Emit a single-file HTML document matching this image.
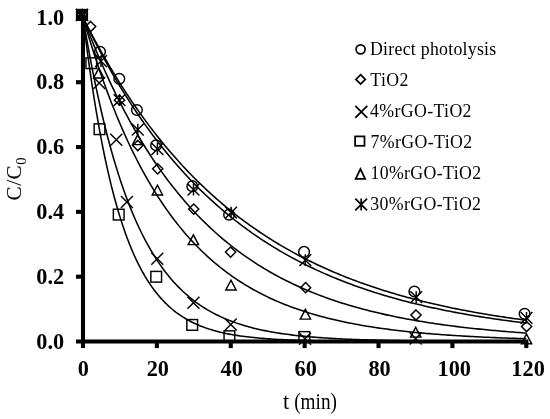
<!DOCTYPE html>
<html lang="en"><head><meta charset="utf-8"><title>C/C0 versus t (min)</title>
<style>
html,body{margin:0;padding:0;background:#fff;}
body{width:550px;height:419px;overflow:hidden;}
svg{display:block;}
text{font-family:"Liberation Serif","Times New Roman",Times,serif;fill:#000;}
.tk{font-weight:bold;font-size:22.3px;}
.lg{font-size:17.8px;}
.ax{font-size:22.3px;}
.mk{fill:none;stroke:#000;}
</style></head><body>
<svg width="550" height="419" viewBox="0 0 550 419">
<rect width="550" height="419" fill="#fff"/>

<g fill="none" stroke="#000" stroke-width="1.55">
<path d="M83.00 17.40 L85.22 21.78 L87.43 26.11 L89.65 30.38 L91.87 34.58 L94.08 38.74 L96.30 42.83 L98.52 46.87 L100.73 50.86 L102.95 54.79 L105.16 58.67 L107.38 62.49 L109.60 66.27 L111.81 69.99 L114.03 73.66 L116.25 77.29 L118.46 80.86 L120.68 84.39 L122.90 87.87 L125.11 91.30 L127.33 94.68 L129.55 98.02 L131.76 101.31 L133.98 104.56 L136.20 107.77 L138.41 110.93 L140.63 114.05 L142.85 117.13 L145.06 120.16 L147.28 123.16 L149.50 126.11 L151.71 129.02 L153.93 131.90 L156.14 134.73 L158.36 137.53 L160.58 140.29 L162.79 143.01 L165.01 145.70 L167.23 148.35 L169.44 150.96 L171.66 153.54 L173.88 156.08 L176.09 158.59 L178.31 161.06 L180.53 163.50 L182.74 165.91 L184.96 168.29 L187.18 170.63 L189.39 172.94 L191.61 175.22 L193.82 177.47 L196.04 179.69 L198.26 181.88 L200.47 184.04 L202.69 186.17 L204.91 188.27 L207.12 190.34 L209.34 192.39 L211.56 194.40 L213.77 196.39 L215.99 198.36 L218.21 200.29 L220.42 202.20 L222.64 204.09 L224.86 205.95 L227.07 207.78 L229.29 209.59 L231.51 211.37 L233.72 213.13 L235.94 214.87 L238.16 216.58 L240.37 218.27 L242.59 219.94 L244.80 221.58 L247.02 223.21 L249.24 224.81 L251.45 226.38 L253.67 227.94 L255.89 229.48 L258.10 230.99 L260.32 232.49 L262.54 233.96 L264.75 235.42 L266.97 236.85 L269.19 238.27 L271.40 239.67 L273.62 241.04 L275.84 242.40 L278.05 243.74 L280.27 245.06 L282.49 246.37 L284.70 247.66 L286.92 248.93 L289.13 250.18 L291.35 251.41 L293.57 252.63 L295.78 253.83 L298.00 255.02 L300.22 256.19 L302.43 257.34 L304.65 258.48 L306.87 259.61 L309.08 260.71 L311.30 261.81 L313.52 262.88 L315.73 263.95 L317.95 265.00 L320.17 266.03 L322.38 267.05 L324.60 268.06 L326.81 269.05 L329.03 270.03 L331.25 271.00 L333.46 271.95 L335.68 272.89 L337.90 273.82 L340.11 274.74 L342.33 275.64 L344.55 276.53 L346.76 277.41 L348.98 278.28 L351.20 279.13 L353.41 279.98 L355.63 280.81 L357.85 281.63 L360.06 282.44 L362.28 283.24 L364.50 284.03 L366.71 284.80 L368.93 285.57 L371.14 286.33 L373.36 287.07 L375.58 287.81 L377.79 288.54 L380.01 289.25 L382.23 289.96 L384.44 290.66 L386.66 291.35 L388.88 292.02 L391.09 292.69 L393.31 293.35 L395.53 294.00 L397.74 294.65 L399.96 295.28 L402.18 295.91 L404.39 296.52 L406.61 297.13 L408.83 297.73 L411.04 298.32 L413.26 298.91 L415.47 299.48 L417.69 300.05 L419.91 300.61 L422.12 301.17 L424.34 301.71 L426.56 302.25 L428.77 302.78 L430.99 303.30 L433.21 303.82 L435.42 304.33 L437.64 304.83 L439.86 305.33 L442.07 305.82 L444.29 306.30 L446.51 306.78 L448.72 307.25 L450.94 307.71 L453.16 308.17 L455.37 308.62 L457.59 309.06 L459.80 309.50 L462.02 309.94 L464.24 310.36 L466.45 310.78 L468.67 311.20 L470.89 311.61 L473.10 312.01 L475.32 312.41 L477.54 312.81 L479.75 313.19 L481.97 313.58 L484.19 313.95 L486.40 314.33 L488.62 314.69 L490.84 315.06 L493.05 315.42 L495.27 315.77 L497.49 316.12 L499.70 316.46 L501.92 316.80 L504.13 317.13 L506.35 317.46 L508.57 317.79 L510.78 318.11 L513.00 318.42 L515.22 318.74 L517.43 319.04 L519.65 319.35 L521.87 319.65 L524.08 319.94 L526.30 320.24"/>
<path d="M83.00 17.40 L85.22 22.01 L87.43 26.56 L89.65 31.05 L91.87 35.47 L94.08 39.82 L96.30 44.12 L98.52 48.35 L100.73 52.53 L102.95 56.64 L105.16 60.70 L107.38 64.70 L109.60 68.64 L111.81 72.52 L114.03 76.35 L116.25 80.13 L118.46 83.85 L120.68 87.52 L122.90 91.13 L125.11 94.70 L127.33 98.21 L129.55 101.67 L131.76 105.09 L133.98 108.45 L136.20 111.77 L138.41 115.04 L140.63 118.27 L142.85 121.45 L145.06 124.58 L147.28 127.67 L149.50 130.71 L151.71 133.71 L153.93 136.67 L156.14 139.59 L158.36 142.46 L160.58 145.30 L162.79 148.09 L165.01 150.84 L167.23 153.56 L169.44 156.23 L171.66 158.87 L173.88 161.47 L176.09 164.04 L178.31 166.56 L180.53 169.05 L182.74 171.51 L184.96 173.93 L187.18 176.31 L189.39 178.67 L191.61 180.98 L193.82 183.27 L196.04 185.52 L198.26 187.74 L200.47 189.93 L202.69 192.09 L204.91 194.22 L207.12 196.31 L209.34 198.38 L211.56 200.42 L213.77 202.43 L215.99 204.41 L218.21 206.36 L220.42 208.28 L222.64 210.18 L224.86 212.05 L227.07 213.89 L229.29 215.71 L231.51 217.50 L233.72 219.27 L235.94 221.01 L238.16 222.72 L240.37 224.41 L242.59 226.08 L244.80 227.72 L247.02 229.34 L249.24 230.94 L251.45 232.51 L253.67 234.07 L255.89 235.60 L258.10 237.10 L260.32 238.59 L262.54 240.06 L264.75 241.50 L266.97 242.92 L269.19 244.33 L271.40 245.71 L273.62 247.07 L275.84 248.42 L278.05 249.74 L280.27 251.05 L282.49 252.34 L284.70 253.61 L286.92 254.86 L289.13 256.09 L291.35 257.31 L293.57 258.51 L295.78 259.69 L298.00 260.85 L300.22 262.00 L302.43 263.13 L304.65 264.25 L306.87 265.35 L309.08 266.43 L311.30 267.50 L313.52 268.56 L315.73 269.59 L317.95 270.62 L320.17 271.63 L322.38 272.62 L324.60 273.60 L326.81 274.57 L329.03 275.52 L331.25 276.46 L333.46 277.39 L335.68 278.30 L337.90 279.20 L340.11 280.09 L342.33 280.96 L344.55 281.82 L346.76 282.67 L348.98 283.51 L351.20 284.34 L353.41 285.15 L355.63 285.95 L357.85 286.74 L360.06 287.52 L362.28 288.29 L364.50 289.05 L366.71 289.80 L368.93 290.53 L371.14 291.26 L373.36 291.97 L375.58 292.68 L377.79 293.37 L380.01 294.06 L382.23 294.73 L384.44 295.40 L386.66 296.06 L388.88 296.70 L391.09 297.34 L393.31 297.97 L395.53 298.59 L397.74 299.20 L399.96 299.80 L402.18 300.40 L404.39 300.98 L406.61 301.56 L408.83 302.13 L411.04 302.69 L413.26 303.24 L415.47 303.79 L417.69 304.32 L419.91 304.85 L422.12 305.37 L424.34 305.89 L426.56 306.39 L428.77 306.89 L430.99 307.39 L433.21 307.87 L435.42 308.35 L437.64 308.82 L439.86 309.29 L442.07 309.75 L444.29 310.20 L446.51 310.65 L448.72 311.08 L450.94 311.52 L453.16 311.94 L455.37 312.37 L457.59 312.78 L459.80 313.19 L462.02 313.59 L464.24 313.99 L466.45 314.38 L468.67 314.77 L470.89 315.15 L473.10 315.52 L475.32 315.89 L477.54 316.26 L479.75 316.62 L481.97 316.97 L484.19 317.32 L486.40 317.66 L488.62 318.00 L490.84 318.34 L493.05 318.67 L495.27 318.99 L497.49 319.31 L499.70 319.63 L501.92 319.94 L504.13 320.25 L506.35 320.55 L508.57 320.85 L510.78 321.14 L513.00 321.43 L515.22 321.72 L517.43 322.00 L519.65 322.28 L521.87 322.55 L524.08 322.82 L526.30 323.09"/>
<path d="M83.00 17.40 L85.22 23.26 L87.43 29.01 L89.65 34.66 L91.87 40.20 L94.08 45.65 L96.30 51.00 L98.52 56.25 L100.73 61.40 L102.95 66.47 L105.16 71.44 L107.38 76.32 L109.60 81.11 L111.81 85.82 L114.03 90.44 L116.25 94.98 L118.46 99.43 L120.68 103.81 L122.90 108.11 L125.11 112.32 L127.33 116.47 L129.55 120.53 L131.76 124.53 L133.98 128.45 L136.20 132.30 L138.41 136.08 L140.63 139.79 L142.85 143.44 L145.06 147.02 L147.28 150.53 L149.50 153.99 L151.71 157.38 L153.93 160.70 L156.14 163.97 L158.36 167.18 L160.58 170.33 L162.79 173.42 L165.01 176.46 L167.23 179.45 L169.44 182.37 L171.66 185.25 L173.88 188.07 L176.09 190.85 L178.31 193.57 L180.53 196.24 L182.74 198.87 L184.96 201.45 L187.18 203.98 L189.39 206.47 L191.61 208.91 L193.82 211.30 L196.04 213.66 L198.26 215.97 L200.47 218.24 L202.69 220.46 L204.91 222.65 L207.12 224.80 L209.34 226.91 L211.56 228.98 L213.77 231.01 L215.99 233.01 L218.21 234.97 L220.42 236.90 L222.64 238.79 L224.86 240.64 L227.07 242.47 L229.29 244.26 L231.51 246.01 L233.72 247.74 L235.94 249.44 L238.16 251.10 L240.37 252.73 L242.59 254.34 L244.80 255.91 L247.02 257.46 L249.24 258.98 L251.45 260.47 L253.67 261.94 L255.89 263.37 L258.10 264.79 L260.32 266.17 L262.54 267.53 L264.75 268.87 L266.97 270.18 L269.19 271.47 L271.40 272.74 L273.62 273.98 L275.84 275.20 L278.05 276.40 L280.27 277.58 L282.49 278.73 L284.70 279.87 L286.92 280.98 L289.13 282.07 L291.35 283.15 L293.57 284.20 L295.78 285.24 L298.00 286.26 L300.22 287.25 L302.43 288.23 L304.65 289.20 L306.87 290.14 L309.08 291.07 L311.30 291.98 L313.52 292.88 L315.73 293.76 L317.95 294.62 L320.17 295.47 L322.38 296.30 L324.60 297.12 L326.81 297.92 L329.03 298.71 L331.25 299.48 L333.46 300.24 L335.68 300.98 L337.90 301.72 L340.11 302.44 L342.33 303.14 L344.55 303.83 L346.76 304.52 L348.98 305.18 L351.20 305.84 L353.41 306.49 L355.63 307.12 L357.85 307.74 L360.06 308.35 L362.28 308.95 L364.50 309.54 L366.71 310.11 L368.93 310.68 L371.14 311.24 L373.36 311.79 L375.58 312.32 L377.79 312.85 L380.01 313.37 L382.23 313.88 L384.44 314.38 L386.66 314.87 L388.88 315.35 L391.09 315.82 L393.31 316.28 L395.53 316.74 L397.74 317.19 L399.96 317.63 L402.18 318.06 L404.39 318.48 L406.61 318.90 L408.83 319.31 L411.04 319.71 L413.26 320.10 L415.47 320.49 L417.69 320.87 L419.91 321.24 L422.12 321.61 L424.34 321.97 L426.56 322.32 L428.77 322.67 L430.99 323.01 L433.21 323.34 L435.42 323.67 L437.64 323.99 L439.86 324.31 L442.07 324.62 L444.29 324.92 L446.51 325.22 L448.72 325.52 L450.94 325.81 L453.16 326.09 L455.37 326.37 L457.59 326.64 L459.80 326.91 L462.02 327.17 L464.24 327.43 L466.45 327.69 L468.67 327.94 L470.89 328.18 L473.10 328.42 L475.32 328.66 L477.54 328.89 L479.75 329.12 L481.97 329.34 L484.19 329.56 L486.40 329.78 L488.62 329.99 L490.84 330.20 L493.05 330.40 L495.27 330.60 L497.49 330.80 L499.70 330.99 L501.92 331.18 L504.13 331.37 L506.35 331.55 L508.57 331.73 L510.78 331.91 L513.00 332.08 L515.22 332.25 L517.43 332.42 L519.65 332.58 L521.87 332.75 L524.08 332.90 L526.30 333.06"/>
<path d="M83.00 17.40 L85.22 25.03 L87.43 32.48 L89.65 39.75 L91.87 46.85 L94.08 53.79 L96.30 60.56 L98.52 67.18 L100.73 73.63 L102.95 79.94 L105.16 86.09 L107.38 92.11 L109.60 97.98 L111.81 103.71 L114.03 109.31 L116.25 114.77 L118.46 120.11 L120.68 125.32 L122.90 130.41 L125.11 135.38 L127.33 140.23 L129.55 144.97 L131.76 149.59 L133.98 154.11 L136.20 158.52 L138.41 162.83 L140.63 167.03 L142.85 171.14 L145.06 175.15 L147.28 179.07 L149.50 182.89 L151.71 186.62 L153.93 190.27 L156.14 193.83 L158.36 197.30 L160.58 200.70 L162.79 204.01 L165.01 207.25 L167.23 210.41 L169.44 213.49 L171.66 216.51 L173.88 219.45 L176.09 222.32 L178.31 225.13 L180.53 227.87 L182.74 230.54 L184.96 233.15 L187.18 235.70 L189.39 238.19 L191.61 240.63 L193.82 243.00 L196.04 245.32 L198.26 247.58 L200.47 249.79 L202.69 251.95 L204.91 254.06 L207.12 256.12 L209.34 258.13 L211.56 260.09 L213.77 262.01 L215.99 263.88 L218.21 265.71 L220.42 267.49 L222.64 269.23 L224.86 270.93 L227.07 272.59 L229.29 274.22 L231.51 275.80 L233.72 277.35 L235.94 278.86 L238.16 280.33 L240.37 281.77 L242.59 283.18 L244.80 284.55 L247.02 285.89 L249.24 287.20 L251.45 288.48 L253.67 289.72 L255.89 290.94 L258.10 292.13 L260.32 293.30 L262.54 294.43 L264.75 295.54 L266.97 296.62 L269.19 297.68 L271.40 298.71 L273.62 299.72 L275.84 300.70 L278.05 301.66 L280.27 302.60 L282.49 303.51 L284.70 304.41 L286.92 305.28 L289.13 306.13 L291.35 306.97 L293.57 307.78 L295.78 308.57 L298.00 309.35 L300.22 310.10 L302.43 310.84 L304.65 311.56 L306.87 312.27 L309.08 312.96 L311.30 313.63 L313.52 314.28 L315.73 314.93 L317.95 315.55 L320.17 316.16 L322.38 316.76 L324.60 317.34 L326.81 317.91 L329.03 318.46 L331.25 319.01 L333.46 319.54 L335.68 320.05 L337.90 320.56 L340.11 321.05 L342.33 321.53 L344.55 322.00 L346.76 322.46 L348.98 322.91 L351.20 323.35 L353.41 323.77 L355.63 324.19 L357.85 324.60 L360.06 325.00 L362.28 325.39 L364.50 325.76 L366.71 326.14 L368.93 326.50 L371.14 326.85 L373.36 327.19 L375.58 327.53 L377.79 327.86 L380.01 328.18 L382.23 328.49 L384.44 328.80 L386.66 329.10 L388.88 329.39 L391.09 329.68 L393.31 329.96 L395.53 330.23 L397.74 330.49 L399.96 330.75 L402.18 331.00 L404.39 331.25 L406.61 331.49 L408.83 331.73 L411.04 331.96 L413.26 332.18 L415.47 332.40 L417.69 332.62 L419.91 332.83 L422.12 333.03 L424.34 333.23 L426.56 333.42 L428.77 333.61 L430.99 333.80 L433.21 333.98 L435.42 334.16 L437.64 334.33 L439.86 334.50 L442.07 334.66 L444.29 334.82 L446.51 334.98 L448.72 335.14 L450.94 335.29 L453.16 335.43 L455.37 335.57 L457.59 335.71 L459.80 335.85 L462.02 335.98 L464.24 336.11 L466.45 336.24 L468.67 336.36 L470.89 336.48 L473.10 336.60 L475.32 336.72 L477.54 336.83 L479.75 336.94 L481.97 337.05 L484.19 337.15 L486.40 337.25 L488.62 337.35 L490.84 337.45 L493.05 337.55 L495.27 337.64 L497.49 337.73 L499.70 337.82 L501.92 337.91 L504.13 337.99 L506.35 338.07 L508.57 338.15 L510.78 338.23 L513.00 338.31 L515.22 338.39 L517.43 338.46 L519.65 338.53 L521.87 338.60 L524.08 338.67 L526.30 338.73"/>
<path d="M83.00 17.40 L85.22 30.54 L87.43 43.15 L89.65 55.25 L91.87 66.86 L94.08 78.00 L96.30 88.69 L98.52 98.94 L100.73 108.78 L102.95 118.21 L105.16 127.27 L107.38 135.96 L109.60 144.29 L111.81 152.29 L114.03 159.96 L116.25 167.33 L118.46 174.39 L120.68 181.17 L122.90 187.67 L125.11 193.91 L127.33 199.89 L129.55 205.64 L131.76 211.15 L133.98 216.43 L136.20 221.50 L138.41 226.37 L140.63 231.04 L142.85 235.52 L145.06 239.82 L147.28 243.94 L149.50 247.90 L151.71 251.69 L153.93 255.34 L156.14 258.83 L158.36 262.18 L160.58 265.40 L162.79 268.49 L165.01 271.45 L167.23 274.29 L169.44 277.01 L171.66 279.63 L173.88 282.14 L176.09 284.55 L178.31 286.86 L180.53 289.07 L182.74 291.20 L184.96 293.24 L187.18 295.19 L189.39 297.07 L191.61 298.87 L193.82 300.60 L196.04 302.26 L198.26 303.85 L200.47 305.38 L202.69 306.84 L204.91 308.25 L207.12 309.60 L209.34 310.89 L211.56 312.13 L213.77 313.32 L215.99 314.47 L218.21 315.56 L220.42 316.62 L222.64 317.62 L224.86 318.59 L227.07 319.52 L229.29 320.41 L231.51 321.27 L233.72 322.09 L235.94 322.88 L238.16 323.63 L240.37 324.36 L242.59 325.05 L244.80 325.72 L247.02 326.36 L249.24 326.97 L251.45 327.56 L253.67 328.13 L255.89 328.67 L258.10 329.19 L260.32 329.69 L262.54 330.17 L264.75 330.63 L266.97 331.07 L269.19 331.49 L271.40 331.90 L273.62 332.29 L275.84 332.66 L278.05 333.02 L280.27 333.36 L282.49 333.69 L284.70 334.01 L286.92 334.31 L289.13 334.60 L291.35 334.88 L293.57 335.15 L295.78 335.41 L298.00 335.66 L300.22 335.89 L302.43 336.12 L304.65 336.34 L306.87 336.55 L309.08 336.75 L311.30 336.94 L313.52 337.13 L315.73 337.30 L317.95 337.47 L320.17 337.64 L322.38 337.79 L324.60 337.94 L326.81 338.09 L329.03 338.23 L331.25 338.36 L333.46 338.49 L335.68 338.61 L337.90 338.73 L340.11 338.84 L342.33 338.95 L344.55 339.05 L346.76 339.15 L348.98 339.25 L351.20 339.34 L353.41 339.42 L355.63 339.51 L357.85 339.59 L360.06 339.67 L362.28 339.74 L364.50 339.81 L366.71 339.88 L368.93 339.95 L371.14 340.01 L373.36 340.07 L375.58 340.13 L377.79 340.18 L380.01 340.24 L382.23 340.29 L384.44 340.34 L386.66 340.38 L388.88 340.43 L391.09 340.47 L393.31 340.51 L395.53 340.55 L397.74 340.59 L399.96 340.63 L402.18 340.67 L404.39 340.70 L406.61 340.73 L408.83 340.76 L411.04 340.79 L413.26 340.82 L415.47 340.85 L417.69 340.88 L419.91 340.90 L422.12 340.92 L424.34 340.95 L426.56 340.97 L428.77 340.99 L430.99 341.01 L433.21 341.03 L435.42 341.05 L437.64 341.07 L439.86 341.09 L442.07 341.10 L444.29 341.12 L446.51 341.14 L448.72 341.15 L450.94 341.16 L453.16 341.18 L455.37 341.19 L457.59 341.20 L459.80 341.22 L462.02 341.23 L464.24 341.24 L466.45 341.25 L468.67 341.26 L470.89 341.27 L473.10 341.28 L475.32 341.29 L477.54 341.30 L479.75 341.30 L481.97 341.31 L484.19 341.32 L486.40 341.33 L488.62 341.33 L490.84 341.34 L493.05 341.35 L495.27 341.35 L497.49 341.36 L499.70 341.36 L501.92 341.37 L504.13 341.38 L506.35 341.38 L508.57 341.39 L510.78 341.39 L513.00 341.39 L515.22 341.40 L517.43 341.40 L519.65 341.41 L521.87 341.41 L524.08 341.41 L526.30 341.42"/>
<path d="M83.00 17.40 L85.22 35.45 L87.43 52.49 L89.65 68.59 L91.87 83.79 L94.08 98.14 L96.30 111.69 L98.52 124.49 L100.73 136.57 L102.95 147.99 L105.16 158.76 L107.38 168.94 L109.60 178.55 L111.81 187.62 L114.03 196.19 L116.25 204.28 L118.46 211.93 L120.68 219.14 L122.90 225.96 L125.11 232.39 L127.33 238.47 L129.55 244.20 L131.76 249.62 L133.98 254.74 L136.20 259.57 L138.41 264.13 L140.63 268.44 L142.85 272.51 L145.06 276.35 L147.28 279.98 L149.50 283.41 L151.71 286.64 L153.93 289.70 L156.14 292.58 L158.36 295.31 L160.58 297.88 L162.79 300.31 L165.01 302.60 L167.23 304.77 L169.44 306.81 L171.66 308.75 L173.88 310.57 L176.09 312.29 L178.31 313.92 L180.53 315.45 L182.74 316.90 L184.96 318.27 L187.18 319.57 L189.39 320.79 L191.61 321.94 L193.82 323.03 L196.04 324.06 L198.26 325.03 L200.47 325.95 L202.69 326.81 L204.91 327.63 L207.12 328.40 L209.34 329.13 L211.56 329.82 L213.77 330.47 L215.99 331.09 L218.21 331.67 L220.42 332.21 L222.64 332.73 L224.86 333.22 L227.07 333.68 L229.29 334.12 L231.51 334.53 L233.72 334.92 L235.94 335.28 L238.16 335.63 L240.37 335.96 L242.59 336.26 L244.80 336.56 L247.02 336.83 L249.24 337.09 L251.45 337.34 L253.67 337.57 L255.89 337.79 L258.10 337.99 L260.32 338.19 L262.54 338.37 L264.75 338.55 L266.97 338.71 L269.19 338.87 L271.40 339.01 L273.62 339.15 L275.84 339.28 L278.05 339.41 L280.27 339.52 L282.49 339.63 L284.70 339.74 L286.92 339.84 L289.13 339.93 L291.35 340.02 L293.57 340.10 L295.78 340.18 L298.00 340.25 L300.22 340.32 L302.43 340.39 L304.65 340.45 L306.87 340.51 L309.08 340.56 L311.30 340.61 L313.52 340.66 L315.73 340.71 L317.95 340.75 L320.17 340.80 L322.38 340.83 L324.60 340.87 L326.81 340.91 L329.03 340.94 L331.25 340.97 L333.46 341.00 L335.68 341.03 L337.90 341.05 L340.11 341.08 L342.33 341.10 L344.55 341.12 L346.76 341.15 L348.98 341.17 L351.20 341.18 L353.41 341.20 L355.63 341.22 L357.85 341.23 L360.06 341.25 L362.28 341.26 L364.50 341.28 L366.71 341.29 L368.93 341.30 L371.14 341.31 L373.36 341.32 L375.58 341.33 L377.79 341.34 L380.01 341.35 L382.23 341.36 L384.44 341.37 L386.66 341.37 L388.88 341.38 L391.09 341.39 L393.31 341.39 L395.53 341.40 L397.74 341.41 L399.96 341.41 L402.18 341.42 L404.39 341.42 L406.61 341.42 L408.83 341.43 L411.04 341.43 L413.26 341.44 L415.47 341.44 L417.69 341.44 L419.91 341.45 L422.12 341.45 L424.34 341.45 L426.56 341.45 L428.77 341.46 L430.99 341.46 L433.21 341.46 L435.42 341.46 L437.64 341.47 L439.86 341.47 L442.07 341.47 L444.29 341.47 L446.51 341.47 L448.72 341.47 L450.94 341.48 L453.16 341.48 L455.37 341.48 L457.59 341.48 L459.80 341.48 L462.02 341.48 L464.24 341.48 L466.45 341.48 L468.67 341.48 L470.89 341.49 L473.10 341.49 L475.32 341.49 L477.54 341.49 L479.75 341.49 L481.97 341.49 L484.19 341.49 L486.40 341.49 L488.62 341.49 L490.84 341.49 L493.05 341.49 L495.27 341.49 L497.49 341.49 L499.70 341.49 L501.92 341.49 L504.13 341.49 L506.35 341.49 L508.57 341.49 L510.78 341.49 L513.00 341.50 L515.22 341.50 L517.43 341.50 L519.65 341.50 L521.87 341.50 L524.08 341.50 L526.30 341.50"/>
</g>
<g stroke="#000" stroke-width="4.1" fill="none">
<path d="M83 15.35 L83 348.1"/>
<path d="M76 341.5 L528.3 341.5"/>
<path d="M76 276.68 L83 276.68"/>
<path d="M76 211.86 L83 211.86"/>
<path d="M76 147.04 L83 147.04"/>
<path d="M76 82.22 L83 82.22"/>
<path d="M76 17.40 L83 17.40"/>
<path d="M156.88 341.5 L156.88 348.1"/>
<path d="M230.77 341.5 L230.77 348.1"/>
<path d="M304.65 341.5 L304.65 348.1"/>
<path d="M378.53 341.5 L378.53 348.1"/>
<path d="M452.42 341.5 L452.42 348.1"/>
<path d="M526.30 341.5 L526.30 348.1"/>
</g>
<g class="mk">
<circle cx="82" cy="14.9" r="5.35" stroke-width="1.45"/>
<circle cx="100" cy="51.8" r="5.35" stroke-width="1.45"/>
<circle cx="119.3" cy="78.8" r="5.35" stroke-width="1.45"/>
<circle cx="136.9" cy="110" r="5.35" stroke-width="1.45"/>
<circle cx="156.1" cy="145.3" r="5.35" stroke-width="1.45"/>
<circle cx="192.3" cy="186.2" r="5.35" stroke-width="1.45"/>
<circle cx="229.1" cy="214.7" r="5.35" stroke-width="1.45"/>
<circle cx="304.05" cy="251.9" r="5.35" stroke-width="1.45"/>
<circle cx="414.4" cy="291.5" r="5.35" stroke-width="1.45"/>
<circle cx="524.6" cy="313.8" r="5.35" stroke-width="1.45"/>
</g>
<g class="mk">
<path d="M82 9.8 L87.1 14.9 L82 20 L76.9 14.9 Z" stroke-width="1.45"/>
<path d="M90.6 21.4 L95.7 26.5 L90.6 31.6 L85.5 26.5 Z" stroke-width="1.45"/>
<path d="M119.5 95.1 L124.6 100.2 L119.5 105.3 L114.4 100.2 Z" stroke-width="1.45"/>
<path d="M137.8 140.4 L142.9 145.5 L137.8 150.6 L132.7 145.5 Z" stroke-width="1.45"/>
<path d="M157.7 163.7 L162.8 168.8 L157.7 173.9 L152.6 168.8 Z" stroke-width="1.45"/>
<path d="M193.7 204 L198.8 209.1 L193.7 214.2 L188.6 209.1 Z" stroke-width="1.45"/>
<path d="M230.6 247 L235.7 252.1 L230.6 257.2 L225.5 252.1 Z" stroke-width="1.45"/>
<path d="M305.6 282.6 L310.7 287.7 L305.6 292.8 L300.5 287.7 Z" stroke-width="1.45"/>
<path d="M416 309.9 L421.1 315 L416 320.1 L410.9 315 Z" stroke-width="1.45"/>
<path d="M526.6 321.4 L531.7 326.5 L526.6 331.6 L521.5 326.5 Z" stroke-width="1.45"/>
</g>
<g class="mk">
<path d="M76 8.9 L88 20.9 M76 20.9 L88 8.9" stroke-width="1.45"/>
<path d="M93.2 77 L105.2 89 M93.2 89 L105.2 77" stroke-width="1.45"/>
<path d="M110.3 133.8 L122.3 145.8 M110.3 145.8 L122.3 133.8" stroke-width="1.45"/>
<path d="M120.9 196 L132.9 208 M120.9 208 L132.9 196" stroke-width="1.45"/>
<path d="M151.3 252.7 L163.3 264.7 M151.3 264.7 L163.3 252.7" stroke-width="1.45"/>
<path d="M187.45 296.7 L199.45 308.7 M187.45 308.7 L199.45 296.7" stroke-width="1.45"/>
<path d="M224.75 318.6 L236.75 330.6 M224.75 330.6 L236.75 318.6" stroke-width="1.45"/>
<path d="M299 332.7 L311 344.7 M299 344.7 L311 332.7" stroke-width="1.45"/>
<path d="M409.7 332.6 L421.7 344.6 M409.7 344.6 L421.7 332.6" stroke-width="1.45"/>
</g>
<g class="mk">
<rect x="76.65" y="9.55" width="10.7" height="10.7" stroke-width="1.45"/>
<rect x="85.95" y="57.85" width="10.7" height="10.7" stroke-width="1.45"/>
<rect x="94.15" y="123.85" width="10.7" height="10.7" stroke-width="1.45"/>
<rect x="113.35" y="209.25" width="10.7" height="10.7" stroke-width="1.45"/>
<rect x="150.85" y="271.4" width="10.7" height="10.7" stroke-width="1.45"/>
<rect x="186.85" y="319.55" width="10.7" height="10.7" stroke-width="1.45"/>
<rect x="224.05" y="330.85" width="10.7" height="10.7" stroke-width="1.45"/>
<rect x="298.95" y="331.65" width="10.7" height="10.7" stroke-width="1.45"/>
</g>
<g class="mk">
<path d="M82 10 L87.15 19.8 L76.85 19.8 Z" stroke-width="1.45"/>
<path d="M98.8 68.1 L103.95 77.9 L93.65 77.9 Z" stroke-width="1.45"/>
<path d="M137.7 134.8 L142.85 144.6 L132.55 144.6 Z" stroke-width="1.45"/>
<path d="M157.4 185.2 L162.55 195 L152.25 195 Z" stroke-width="1.45"/>
<path d="M193.35 234.8 L198.5 244.6 L188.2 244.6 Z" stroke-width="1.45"/>
<path d="M230.95 280.2 L236.1 290 L225.8 290 Z" stroke-width="1.45"/>
<path d="M305.4 309.3 L310.55 319.1 L300.25 319.1 Z" stroke-width="1.45"/>
<path d="M415.7 327.3 L420.85 337.1 L410.55 337.1 Z" stroke-width="1.45"/>
<path d="M526.5 334 L531.65 343.8 L521.35 343.8 Z" stroke-width="1.45"/>
</g>
<g class="mk">
<path d="M76.1 9 L87.9 20.8 M76.1 20.8 L87.9 9 M82 9 L82 20.8" stroke-width="1.45"/>
<path d="M95.1 55.3 L106.9 67.1 M95.1 67.1 L106.9 55.3 M101 55.3 L101 67.1" stroke-width="1.45"/>
<path d="M113.6 94.3 L125.4 106.1 M113.6 106.1 L125.4 94.3 M119.5 94.3 L119.5 106.1" stroke-width="1.45"/>
<path d="M131.9 123.7 L143.7 135.5 M131.9 135.5 L143.7 123.7 M137.8 123.7 L137.8 135.5" stroke-width="1.45"/>
<path d="M151.5 143.1 L163.3 154.9 M151.5 154.9 L163.3 143.1 M157.4 143.1 L157.4 154.9" stroke-width="1.45"/>
<path d="M187.6 183.7 L199.4 195.5 M187.6 195.5 L199.4 183.7 M193.5 183.7 L193.5 195.5" stroke-width="1.45"/>
<path d="M225.2 206.7 L237 218.5 M225.2 218.5 L237 206.7 M231.1 206.7 L231.1 218.5" stroke-width="1.45"/>
<path d="M299.4 254.3 L311.2 266.1 M299.4 266.1 L311.2 254.3 M305.3 254.3 L305.3 266.1" stroke-width="1.45"/>
<path d="M410.3 291.2 L422.1 303 M410.3 303 L422.1 291.2 M416.2 291.2 L416.2 303" stroke-width="1.45"/>
<path d="M520.6 312 L532.4 323.8 M520.6 323.8 L532.4 312 M526.5 312 L526.5 323.8" stroke-width="1.45"/>
</g>
<text class="tk" x="64.2" y="348.60" text-anchor="end">0.0</text>
<text class="tk" x="64.2" y="283.78" text-anchor="end">0.2</text>
<text class="tk" x="64.2" y="218.96" text-anchor="end">0.4</text>
<text class="tk" x="64.2" y="154.14" text-anchor="end">0.6</text>
<text class="tk" x="64.2" y="89.32" text-anchor="end">0.8</text>
<text class="tk" x="64.2" y="24.50" text-anchor="end">1.0</text>
<text class="tk" x="83.40" y="375.6" text-anchor="middle">0</text>
<text class="tk" x="157.88" y="375.6" text-anchor="middle">20</text>
<text class="tk" x="231.77" y="375.6" text-anchor="middle">40</text>
<text class="tk" x="305.65" y="375.6" text-anchor="middle">60</text>
<text class="tk" x="379.53" y="375.6" text-anchor="middle">80</text>
<text class="tk" x="454.22" y="375.6" text-anchor="middle">100</text>
<text class="tk" x="528.10" y="375.6" text-anchor="middle">120</text>
<text class="ax" x="282.9" y="409">t <tspan x="294.2" textLength="42.8" lengthAdjust="spacingAndGlyphs">(min)</tspan></text>
<text class="ax" style="font-size:21.3px" transform="translate(21.4 200.5) rotate(-90)" textLength="43" lengthAdjust="spacing">C/C<tspan font-size="14.5px" dy="4.6">0</tspan></text>
<g class="mk">
<circle cx="360.6" cy="49.3" r="4.55" stroke-width="1.75"/>
<path d="M360.6 74.7 L365.3 79.4 L360.6 84.1 L355.9 79.4 Z" stroke-width="1.75"/>
<path d="M355.3 105.9 L367.3 117.9 M355.3 117.9 L367.3 105.9" stroke-width="1.75"/>
<rect x="355.1" y="136.4" width="9.4" height="9.4" stroke-width="1.75"/>
<path d="M360.4 169 L365.15 178.8 L355.65 178.8 Z" stroke-width="1.75"/>
<path d="M355.3 198.6 L367.1 210.4 M355.3 210.4 L367.1 198.6 M361.2 198.6 L361.2 210.4" stroke-width="1.75"/>
</g>
<text class="lg" x="370.0" y="55.40" textLength="126.2" lengthAdjust="spacing">Direct photolysis</text>
<text class="lg" x="370.3" y="86.40" textLength="38.2" lengthAdjust="spacing">TiO2</text>
<text class="lg" x="370.0" y="117.40" textLength="101.5" lengthAdjust="spacing">4%rGO-TiO2</text>
<text class="lg" x="370.6" y="148.40" textLength="101.5" lengthAdjust="spacing">7%rGO-TiO2</text>
<text class="lg" x="370.4" y="179.40" textLength="110.7" lengthAdjust="spacing">10%rGO-TiO2</text>
<text class="lg" x="370.3" y="210.40" textLength="110.7" lengthAdjust="spacing">30%rGO-TiO2</text>
</svg></body></html>
